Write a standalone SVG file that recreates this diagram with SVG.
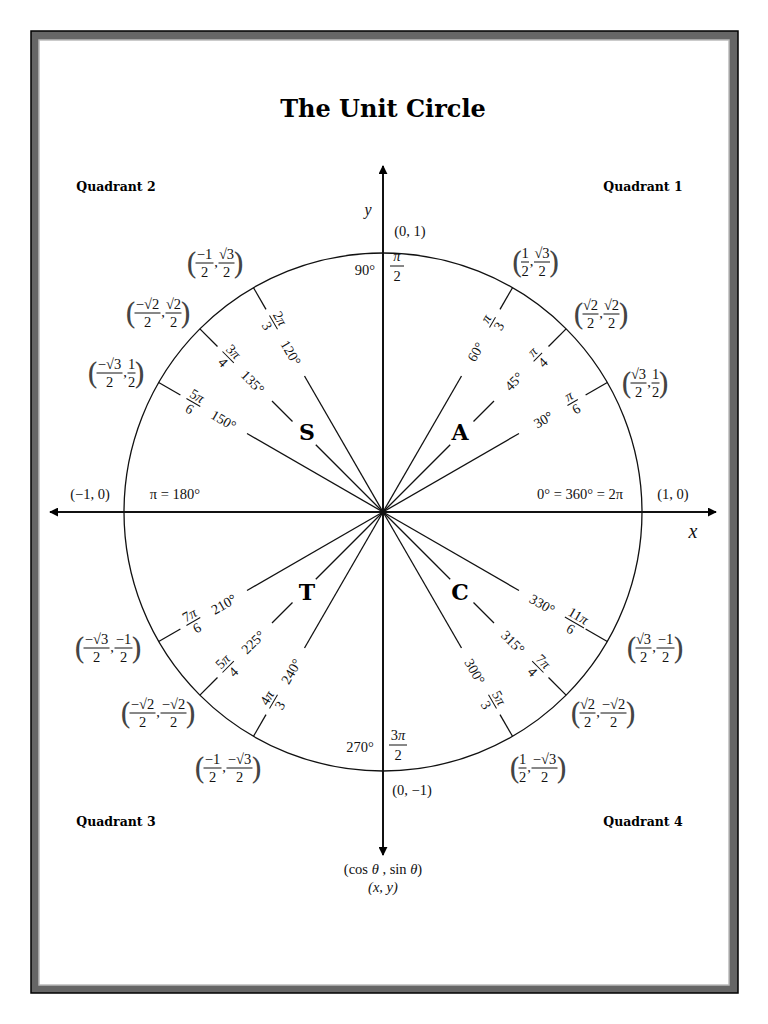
<svg xmlns="http://www.w3.org/2000/svg" width="768" height="1024" viewBox="0 0 768 1024">
<style>
.m{font-family:"Liberation Serif","DejaVu Serif",serif;font-size:14.5px;text-anchor:middle;fill:#111}
.p{font-family:"DejaVu Serif","Liberation Serif",serif;font-size:30px;text-anchor:middle;fill:#444;font-weight:200}
.q{font-family:"DejaVu Serif",serif;font-weight:bold;font-size:12.5px;text-anchor:middle}
.big{font-family:"DejaVu Serif","Liberation Serif",serif;font-weight:bold;font-size:22px;text-anchor:middle}
.bar{stroke:#111;stroke-width:1}
.ln{stroke:#111;stroke-width:1.3;fill:none}
</style>
<defs>
<marker id="ah" viewBox="0 0 10 10" refX="9" refY="5" markerWidth="9" markerHeight="9" markerUnits="userSpaceOnUse" orient="auto"><path d="M0,0 L10,5 L0,10 z" fill="#000"/></marker>
</defs>
<rect x="31" y="31" width="707" height="962" fill="#666" stroke="#000" stroke-width="1.5"/>
<rect x="39" y="40" width="690" height="945" fill="#fff" stroke="#bbb" stroke-width="1.5"/>
<text x="383" y="117" class="big" style="font-size:24px">The Unit Circle</text>
<text x="116" y="191" class="q">Quadrant 2</text>
<text x="643" y="191" class="q">Quadrant 1</text>
<text x="116" y="826" class="q">Quadrant 3</text>
<text x="643" y="826" class="q">Quadrant 4</text>
<g id="circle"><circle cx="383" cy="512" r="259" class="ln"/></g>
<g id="connectors" class="ln">
<line x1="383" y1="512" x2="519" y2="433.5"/><line x1="585.6" y1="395" x2="607.3" y2="382.5"/>
<line x1="383" y1="512" x2="461.5" y2="376"/><line x1="500" y1="309.4" x2="512.5" y2="287.7"/>
<line x1="383" y1="512" x2="450.2" y2="444.8"/><line x1="473.5" y1="421.5" x2="494" y2="401"/><line x1="548.5" y1="346.5" x2="566.1" y2="328.9"/>
<line x1="383" y1="512" x2="247" y2="433.5"/><line x1="180.4" y1="395" x2="158.7" y2="382.5"/>
<line x1="383" y1="512" x2="304.5" y2="376"/><line x1="266" y1="309.4" x2="253.5" y2="287.7"/>
<line x1="383" y1="512" x2="315.8" y2="444.8"/><line x1="292.5" y1="421.5" x2="272" y2="401"/><line x1="217.5" y1="346.5" x2="199.9" y2="328.9"/>
<line x1="383" y1="512" x2="247" y2="590.5"/><line x1="180.4" y1="629" x2="158.7" y2="641.5"/>
<line x1="383" y1="512" x2="304.5" y2="648"/><line x1="266" y1="714.6" x2="253.5" y2="736.3"/>
<line x1="383" y1="512" x2="315.8" y2="579.2"/><line x1="292.5" y1="602.5" x2="272" y2="623"/><line x1="217.5" y1="677.5" x2="199.9" y2="695.1"/>
<line x1="383" y1="512" x2="519" y2="590.5"/><line x1="585.6" y1="629" x2="607.3" y2="641.5"/>
<line x1="383" y1="512" x2="461.5" y2="648"/><line x1="500" y1="714.6" x2="512.5" y2="736.3"/>
<line x1="383" y1="512" x2="450.2" y2="579.2"/><line x1="473.5" y1="602.5" x2="494" y2="623"/><line x1="548.5" y1="677.5" x2="566.1" y2="695.1"/>
<line x1="383" y1="512" x2="716" y2="512" stroke-width="2" marker-end="url(#ah)"/>
<line x1="383" y1="512" x2="50" y2="512" stroke-width="2" marker-end="url(#ah)"/>
<line x1="383" y1="512" x2="383" y2="166" stroke-width="2" marker-end="url(#ah)"/>
<line x1="383" y1="512" x2="383" y2="855" stroke-width="2" marker-end="url(#ah)"/>
</g>
<g id="quadrant-letters">
<text x="307" y="440" class="big">S</text><text x="460" y="440" class="big">A</text>
<text x="307" y="600" class="big">T</text><text x="460" y="600" class="big">C</text>
</g>
<g id="axis-labels" class="m">
<text x="368" y="215" font-style="italic" style="font-size:16px">y</text>
<text x="693" y="538" font-style="italic" style="font-size:20px">x</text>
<text x="410" y="236">(0, 1)</text>
<text x="365" y="275">90°</text>
<text x="397" y="261" font-style="italic">π</text><line x1="390" y1="266" x2="404" y2="266" class="bar"/><text x="397" y="281">2</text>
<text x="90" y="499">(−1, 0)</text>
<text x="175" y="499">π  =  180°</text>
<text x="580" y="499">0°  =  360°  = 2π</text>
<text x="673" y="499">(1, 0)</text>
<text x="360" y="752">270°</text>
<text x="398" y="740">3<tspan font-style="italic">π</tspan></text><line x1="389" y1="745" x2="407" y2="745" class="bar"/><text x="398" y="760">2</text>
<text x="412" y="795">(0, −1)</text>
<text x="383" y="874">(cos <tspan font-style="italic">θ</tspan> , sin <tspan font-style="italic">θ</tspan>)</text>
<text x="383" y="892" font-style="italic">(x, y)</text>
</g>
<g id="angle-labels" class="m" style="font-size:14px">
<g transform="translate(556.2,412) rotate(-30)"><text x="-15" y="5">30°</text><text x="19" y="-3" font-style="italic">π</text><line x1="13" y1="0" x2="25" y2="0" class="bar"/><text x="19" y="12">6</text></g>
<g transform="translate(524.4,370.6) rotate(-45)"><text x="-15" y="5">45°</text><text x="19" y="-3" font-style="italic">π</text><line x1="13" y1="0" x2="25" y2="0" class="bar"/><text x="19" y="12">4</text></g>
<g transform="translate(483,338.8) rotate(-60)"><text x="-15" y="5">60°</text><text x="19" y="-3" font-style="italic">π</text><line x1="13" y1="0" x2="25" y2="0" class="bar"/><text x="19" y="12">3</text></g>
<g transform="translate(283,338.8) rotate(60)"><text x="-19" y="-3">2<tspan font-style="italic">π</tspan></text><line x1="-27" y1="0" x2="-11" y2="0" class="bar"/><text x="-19" y="12">3</text><text x="16" y="5">120°</text></g>
<g transform="translate(241.6,370.6) rotate(45)"><text x="-19" y="-3">3<tspan font-style="italic">π</tspan></text><line x1="-27" y1="0" x2="-11" y2="0" class="bar"/><text x="-19" y="12">4</text><text x="16" y="5">135°</text></g>
<g transform="translate(209.8,412) rotate(30)"><text x="-19" y="-3">5<tspan font-style="italic">π</tspan></text><line x1="-27" y1="0" x2="-11" y2="0" class="bar"/><text x="-19" y="12">6</text><text x="16" y="5">150°</text></g>
<g transform="translate(209.8,612) rotate(-30)"><text x="-19" y="-3">7<tspan font-style="italic">π</tspan></text><line x1="-27" y1="0" x2="-11" y2="0" class="bar"/><text x="-19" y="12">6</text><text x="16" y="5">210°</text></g>
<g transform="translate(241.6,653.4) rotate(-45)"><text x="-19" y="-3">5<tspan font-style="italic">π</tspan></text><line x1="-27" y1="0" x2="-11" y2="0" class="bar"/><text x="-19" y="12">4</text><text x="16" y="5">225°</text></g>
<g transform="translate(283,685.2) rotate(-60)"><text x="-19" y="-3">4<tspan font-style="italic">π</tspan></text><line x1="-27" y1="0" x2="-11" y2="0" class="bar"/><text x="-19" y="12">3</text><text x="16" y="5">240°</text></g>
<g transform="translate(556.2,612) rotate(30)"><text x="-16" y="5">330°</text><text x="21" y="-3">11<tspan font-style="italic">π</tspan></text><line x1="10" y1="0" x2="32" y2="0" class="bar"/><text x="21" y="12">6</text></g>
<g transform="translate(524.4,653.4) rotate(45)"><text x="-16" y="5">315°</text><text x="19" y="-3">7<tspan font-style="italic">π</tspan></text><line x1="11" y1="0" x2="27" y2="0" class="bar"/><text x="19" y="12">4</text></g>
<g transform="translate(483,685.2) rotate(60)"><text x="-16" y="5">300°</text><text x="19" y="-3">5<tspan font-style="italic">π</tspan></text><line x1="11" y1="0" x2="27" y2="0" class="bar"/><text x="19" y="12">3</text></g>
</g>
<g id="coords" class="m">
<g transform="translate(513,262)"><text x="4" y="11" class="p">(</text><text x="12" y="-4">1</text><line x1="8" y1="0" x2="16" y2="0" class="bar"/><text x="12" y="14">2</text><text x="18.5" y="4">,</text><text x="29" y="-4">√3</text><line x1="21" y1="0" x2="37" y2="0" class="bar"/><text x="29" y="14">2</text><text x="41" y="11" class="p">)</text></g>
<g transform="translate(574.5,314)"><text x="4" y="11" class="p">(</text><text x="16" y="-4">√2</text><line x1="8" y1="0" x2="24" y2="0" class="bar"/><text x="16" y="14">2</text><text x="26.5" y="4">,</text><text x="37" y="-4">√2</text><line x1="29" y1="0" x2="45" y2="0" class="bar"/><text x="37" y="14">2</text><text x="49" y="11" class="p">)</text></g>
<g transform="translate(622.5,383)"><text x="4" y="11" class="p">(</text><text x="16" y="-4">√3</text><line x1="8" y1="0" x2="24" y2="0" class="bar"/><text x="16" y="14">2</text><text x="26.5" y="4">,</text><text x="33" y="-4">1</text><line x1="29" y1="0" x2="37" y2="0" class="bar"/><text x="33" y="14">2</text><text x="41" y="11" class="p">)</text></g>
<g transform="translate(187.5,263)"><text x="4" y="11" class="p">(</text><text x="17" y="-4">−1</text><line x1="8" y1="0" x2="26" y2="0" class="bar"/><text x="17" y="14">2</text><text x="28.5" y="4">,</text><text x="39" y="-4">√3</text><line x1="31" y1="0" x2="47" y2="0" class="bar"/><text x="39" y="14">2</text><text x="51" y="11" class="p">)</text></g>
<g transform="translate(126.5,313)"><text x="4" y="11" class="p">(</text><text x="21" y="-4">−√2</text><line x1="8" y1="0" x2="34" y2="0" class="bar"/><text x="21" y="14">2</text><text x="36.5" y="4">,</text><text x="47" y="-4">√2</text><line x1="39" y1="0" x2="55" y2="0" class="bar"/><text x="47" y="14">2</text><text x="59" y="11" class="p">)</text></g>
<g transform="translate(88.5,373)"><text x="4" y="11" class="p">(</text><text x="21" y="-4">−√3</text><line x1="8" y1="0" x2="34" y2="0" class="bar"/><text x="21" y="14">2</text><text x="36.5" y="4">,</text><text x="43" y="-4">1</text><line x1="39" y1="0" x2="47" y2="0" class="bar"/><text x="43" y="14">2</text><text x="51" y="11" class="p">)</text></g>
<g transform="translate(75.5,648)"><text x="4" y="11" class="p">(</text><text x="21" y="-4">−√3</text><line x1="8" y1="0" x2="34" y2="0" class="bar"/><text x="21" y="14">2</text><text x="36.5" y="4">,</text><text x="48" y="-4">−1</text><line x1="39" y1="0" x2="57" y2="0" class="bar"/><text x="48" y="14">2</text><text x="61" y="11" class="p">)</text></g>
<g transform="translate(121.5,713)"><text x="4" y="11" class="p">(</text><text x="21" y="-4">−√2</text><line x1="8" y1="0" x2="34" y2="0" class="bar"/><text x="21" y="14">2</text><text x="36.5" y="4">,</text><text x="52" y="-4">−√2</text><line x1="39" y1="0" x2="65" y2="0" class="bar"/><text x="52" y="14">2</text><text x="69" y="11" class="p">)</text></g>
<g transform="translate(195.5,768)"><text x="4" y="11" class="p">(</text><text x="17" y="-4">−1</text><line x1="8" y1="0" x2="26" y2="0" class="bar"/><text x="17" y="14">2</text><text x="28.5" y="4">,</text><text x="44" y="-4">−√3</text><line x1="31" y1="0" x2="57" y2="0" class="bar"/><text x="44" y="14">2</text><text x="61" y="11" class="p">)</text></g>
<g transform="translate(627.5,648)"><text x="4" y="11" class="p">(</text><text x="16" y="-4">√3</text><line x1="8" y1="0" x2="24" y2="0" class="bar"/><text x="16" y="14">2</text><text x="26.5" y="4">,</text><text x="38" y="-4">−1</text><line x1="29" y1="0" x2="47" y2="0" class="bar"/><text x="38" y="14">2</text><text x="51" y="11" class="p">)</text></g>
<g transform="translate(571.5,713)"><text x="4" y="11" class="p">(</text><text x="16" y="-4">√2</text><line x1="8" y1="0" x2="24" y2="0" class="bar"/><text x="16" y="14">2</text><text x="26.5" y="4">,</text><text x="42" y="-4">−√2</text><line x1="29" y1="0" x2="55" y2="0" class="bar"/><text x="42" y="14">2</text><text x="59" y="11" class="p">)</text></g>
<g transform="translate(510.5,768)"><text x="4" y="11" class="p">(</text><text x="12" y="-4">1</text><line x1="8" y1="0" x2="16" y2="0" class="bar"/><text x="12" y="14">2</text><text x="18.5" y="4">,</text><text x="34" y="-4">−√3</text><line x1="21" y1="0" x2="47" y2="0" class="bar"/><text x="34" y="14">2</text><text x="51" y="11" class="p">)</text></g>
</g>
</svg>
